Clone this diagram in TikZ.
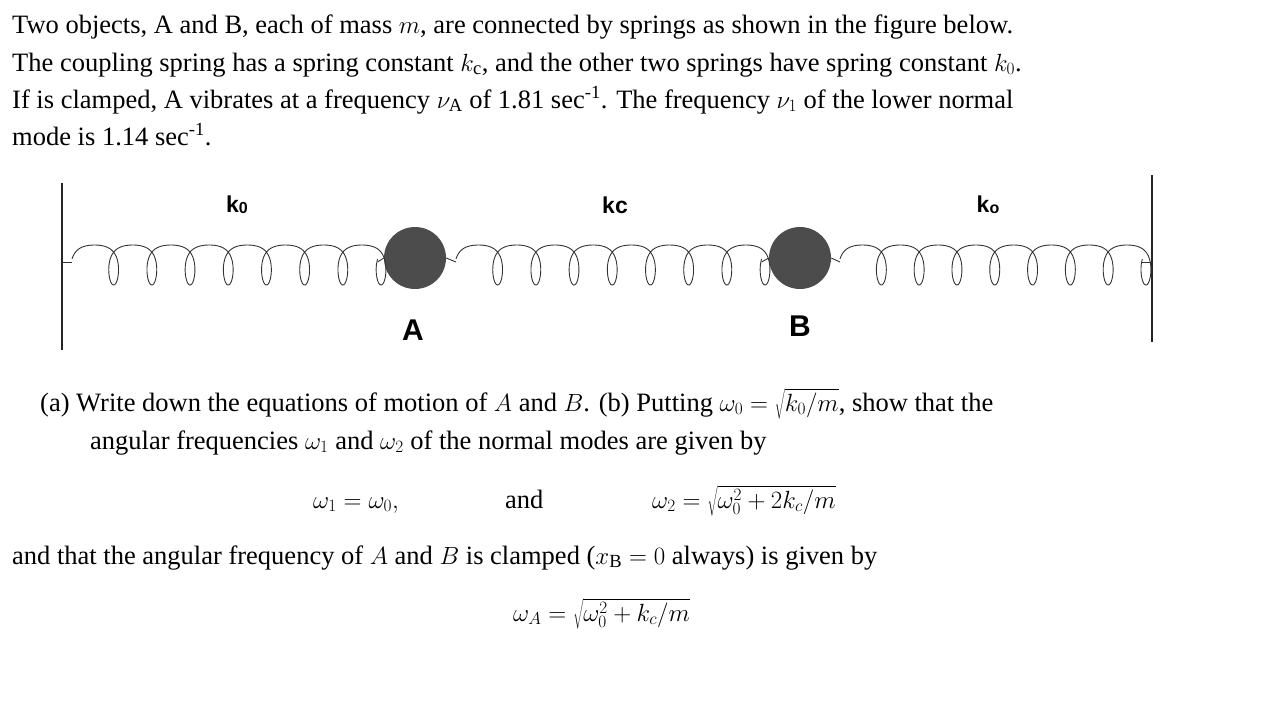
\documentclass[tikz,border=0pt]{standalone}
\usepackage{fontspec}
\setmainfont{Liberation Serif}
\newfontfamily\labfont{Liberation Sans}
\begin{document}
\begin{tikzpicture}[x=1pt,y=-1pt,
  txt/.style={anchor=base west,inner sep=0pt,font=\fontsize{26.5}{32}\selectfont},
  lab/.style={inner sep=0pt,font=\labfont\bfseries\fontsize{23}{26}\selectfont},
  mlab/.style={inner sep=0pt,font=\labfont\bfseries\fontsize{30}{34}\selectfont},
  mass/.style={circle,fill=black!70,inner sep=0pt,minimum size=62pt},
  wall/.style={line width=2.5pt,black!85},
  coil/.style={line width=0.9pt,black!80}]
\useasboundingbox (0,0) rectangle (1270,728);
% text
\node[txt] (l1) at (12,33) {Two objects, A and B, each of mass $m$, are connected by springs as shown in the figure below.};
\node[txt] (l2) at (12,71) {The coupling spring has a spring constant $k_{\mathrm{c}}$, and the other two springs have spring constant $k_0$.};
\node[txt] (l3) at (12,108) {If is clamped, A vibrates at a frequency $\nu_{\mathrm{A}}$ of 1.81 sec\textsuperscript{-1}. The frequency $\nu_1$ of the lower normal};
\node[txt] (l4) at (12,145) {mode is 1.14 sec\textsuperscript{-1}.};
% walls
\coordinate (wl) at (62,262);
\coordinate (wr) at (1152,262);
\draw[wall] (62,183) -- (62,350);
\draw[wall] (1152,175) -- (1152,342);
% masses
\node[mass] (A) at (415,258) {};
\node[mass] (B) at (800,258) {};
\node[mlab] (la) at (413,330) {A};
\node[mlab] (lb) at (800,326) {B};
\node[lab] (k1) at (237,205) {k\raisebox{-0.1ex}{\fontsize{16}{18}\selectfont 0}};
\node[lab] (k2) at (615,205) {kc};
\node[lab] (k3) at (988,205) {k\raisebox{-0.1ex}{\fontsize{16}{18}\selectfont o}};
% springs: start x, n coils, pitch
\foreach \xs/\yc/\n/\p in {72/262/8/38.2, 456/262/8/38.2, 840/262/8/37.8}{
  \draw[coil] plot[domain=-pi/2:2*pi*\n-pi/2,samples=400,smooth,variable=\t]
   ({\xs+\p*(\t+pi/2)/(2*pi)+13*(sin(deg(\t))+1)},{\yc-20*cos(deg(\t))+6*cos(deg(\t))*cos(deg(\t))-3});
}
\draw[coil] (wl) -- (72,262);
\draw[coil] (72+8*38.2,262) -- (A.west);
\draw[coil] (A.east) -- (456,262);
\draw[coil] (456+8*38.2,262) -- (B.west);
\draw[coil] (B.east) -- (840,262);
\draw[coil] (840+8*37.8,262) -- (wr);
% lower text
\node[txt] (p1) at (40,411) {(a) Write down the equations of motion of $A$ and $B$. (b) Putting $\omega_0 = \sqrt{k_0/m}$, show that the};
\node[txt] (p2) at (90,449) {angular frequencies $\omega_1$ and $\omega_2$ of the normal modes are given by};
\node[txt] (e1) at (313,508) {$\omega_1 = \omega_0,$};
\node[txt] (e2) at (505,508) {and};
\node[txt] (e3) at (652,508) {$\omega_2 = \sqrt{\omega_0^2 + 2k_c/m}$};
\node[txt] (p3) at (12,564) {and that the angular frequency of $A$ and $B$ is clamped ($x_{\mathrm{B}} = 0$ always) is given by};
\node[txt] (e4) at (513,621) {$\omega_A = \sqrt{\omega_0^2 + k_c/m}$};
\end{tikzpicture}
\end{document}
